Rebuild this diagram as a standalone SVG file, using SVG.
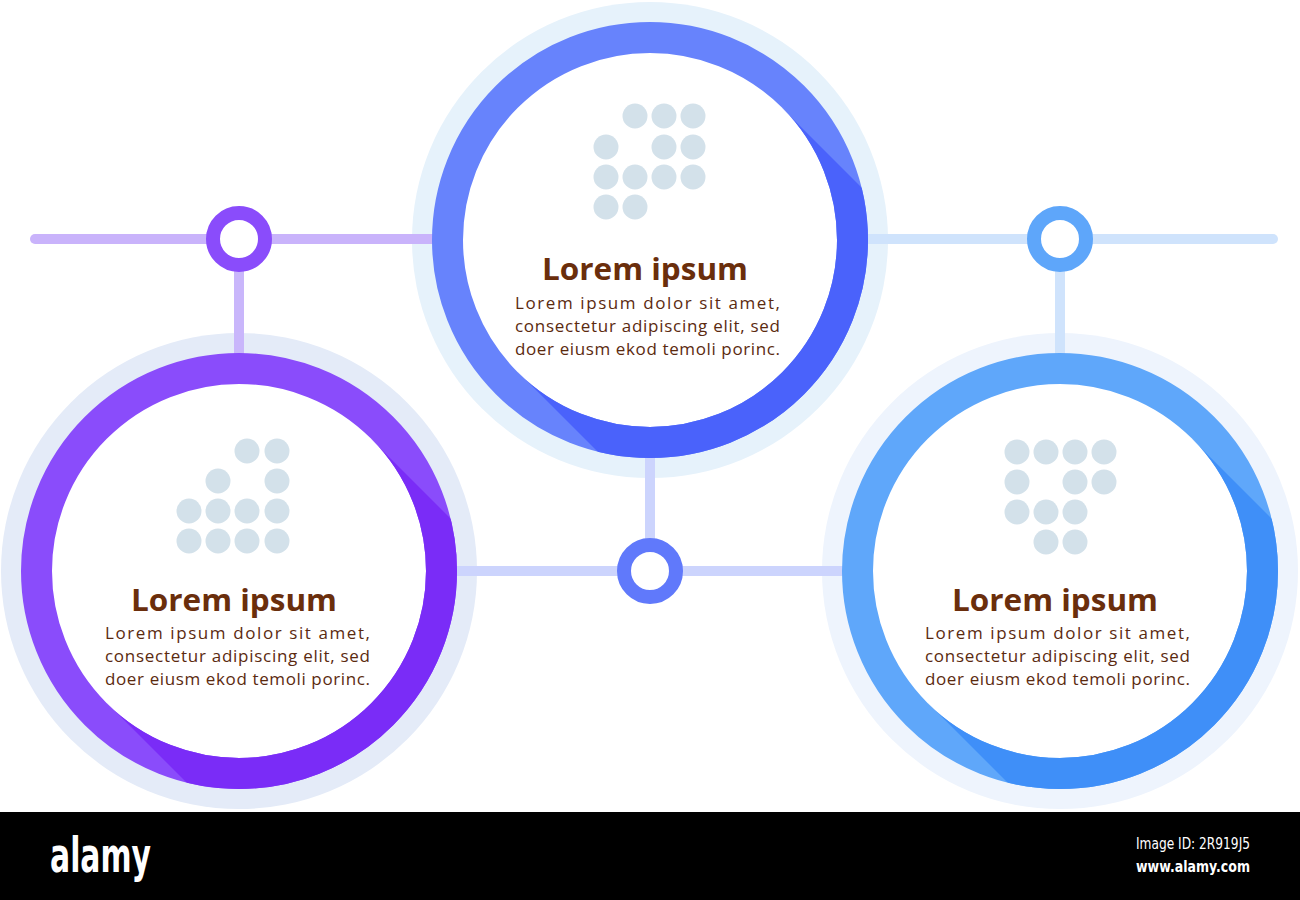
<svg xmlns="http://www.w3.org/2000/svg" width="1300" height="900" viewBox="0 0 1300 900">
<style>
.title{font-family:"Open Sans","Noto Sans",sans-serif;font-weight:bold;font-size:30px;fill:#6a2e0c;text-anchor:middle}
.body{font-family:"Open Sans","Noto Sans",sans-serif;font-size:17px;fill:#5b2a0f}
.dot{fill:#d3e1ea}
.ln{stroke-width:10;stroke-linecap:round;fill:none}
.jn{fill:#fff;stroke-width:14}
</style>
<defs>
<clipPath id="shC"><polygon points="782,108 1200,526 936,790 518,372"/></clipPath>
<clipPath id="shL"><polygon points="371,439 789,857 525,1121 107,703"/></clipPath>
<clipPath id="shR"><polygon points="1192,439 1610,857 1346,1121 928,703"/></clipPath>
</defs>
<rect width="1300" height="900" fill="#fff"/>
<g id="halos">
<circle cx="650" cy="240" r="238" fill="#e6f2fb"/>
<circle cx="239" cy="571" r="238" fill="#e4ebf8"/>
<circle cx="1060" cy="571" r="238" fill="#eef4fd"/>
</g>
<g id="connectors">
<line class="ln" x1="35" y1="239" x2="440" y2="239" stroke="#c9b3fb"/>
<line class="ln" x1="239" y1="260" x2="239" y2="365" stroke="#c9b6fb"/>
<line class="ln" x1="860" y1="239" x2="1273" y2="239" stroke="#cfe3fc"/>
<line class="ln" x1="1060" y1="260" x2="1060" y2="365" stroke="#cfe3fc"/>
<line class="ln" x1="650" y1="450" x2="650" y2="550" stroke="#ccd4fd"/>
<line x1="450" y1="571" x2="850" y2="571" stroke="#ccd4fd" stroke-width="10"/>
<circle class="jn" cx="239" cy="239" r="26" stroke="#8a4cfb"/>
<circle class="jn" cx="1060" cy="239" r="26" stroke="#5ea6fa"/>
<circle class="jn" cx="650" cy="571" r="26" stroke="#6079fb"/>
</g>
<g id="node-center">
<circle cx="650" cy="240" r="202.5" fill="#fff" stroke="#6783fc" stroke-width="31"/>
<circle cx="650" cy="240" r="202.5" fill="none" stroke="#4a62fb" stroke-width="31" clip-path="url(#shC)"/>
<g class="dot">
<circle cx="635" cy="116" r="12.5"/><circle cx="664" cy="116" r="12.5"/><circle cx="693" cy="116" r="12.5"/>
<circle cx="606" cy="147" r="12.5"/><circle cx="664" cy="147" r="12.5"/><circle cx="693" cy="147" r="12.5"/>
<circle cx="606" cy="177" r="12.5"/><circle cx="635" cy="177" r="12.5"/><circle cx="664" cy="177" r="12.5"/><circle cx="693" cy="177" r="12.5"/>
<circle cx="606" cy="207" r="12.5"/><circle cx="635" cy="207" r="12.5"/>
</g>
<text class="title" x="645" y="280" textLength="206" lengthAdjust="spacingAndGlyphs">Lorem ipsum</text>
<text class="body" x="515" y="309" textLength="265" lengthAdjust="spacing">Lorem ipsum dolor sit amet,</text>
<text class="body" x="515" y="332" textLength="265" lengthAdjust="spacing">consectetur adipiscing elit, sed</text>
<text class="body" x="515" y="355" textLength="265" lengthAdjust="spacing">doer eiusm ekod temoli porinc.</text>
</g>
<g id="node-left">
<circle cx="239" cy="571" r="202.5" fill="#fff" stroke="#8a4cfb" stroke-width="31"/>
<circle cx="239" cy="571" r="202.5" fill="none" stroke="#7a2cf7" stroke-width="31" clip-path="url(#shL)"/>
<g class="dot">
<circle cx="247" cy="451" r="12.5"/><circle cx="277" cy="451" r="12.5"/>
<circle cx="218" cy="481" r="12.5"/><circle cx="277" cy="481" r="12.5"/>
<circle cx="189" cy="511" r="12.5"/><circle cx="218" cy="511" r="12.5"/><circle cx="247" cy="511" r="12.5"/><circle cx="277" cy="511" r="12.5"/>
<circle cx="189" cy="541" r="12.5"/><circle cx="218" cy="541" r="12.5"/><circle cx="247" cy="541" r="12.5"/><circle cx="277" cy="541" r="12.5"/>
</g>
<text class="title" x="234" y="611" textLength="206" lengthAdjust="spacingAndGlyphs">Lorem ipsum</text>
<text class="body" x="105" y="639" textLength="265" lengthAdjust="spacing">Lorem ipsum dolor sit amet,</text>
<text class="body" x="105" y="662" textLength="265" lengthAdjust="spacing">consectetur adipiscing elit, sed</text>
<text class="body" x="105" y="685" textLength="265" lengthAdjust="spacing">doer eiusm ekod temoli porinc.</text>
</g>
<g id="node-right">
<circle cx="1060" cy="571" r="202.5" fill="#fff" stroke="#5fa7fa" stroke-width="31"/>
<circle cx="1060" cy="571" r="202.5" fill="none" stroke="#3f8ff8" stroke-width="31" clip-path="url(#shR)"/>
<g class="dot">
<circle cx="1017" cy="452" r="12.5"/><circle cx="1046" cy="452" r="12.5"/><circle cx="1075" cy="452" r="12.5"/><circle cx="1104" cy="452" r="12.5"/>
<circle cx="1017" cy="482" r="12.5"/><circle cx="1075" cy="482" r="12.5"/><circle cx="1104" cy="482" r="12.5"/>
<circle cx="1017" cy="512" r="12.5"/><circle cx="1046" cy="512" r="12.5"/><circle cx="1075" cy="512" r="12.5"/>
<circle cx="1046" cy="542" r="12.5"/><circle cx="1075" cy="542" r="12.5"/>
</g>
<text class="title" x="1055" y="611" textLength="206" lengthAdjust="spacingAndGlyphs">Lorem ipsum</text>
<text class="body" x="925" y="639" textLength="265" lengthAdjust="spacing">Lorem ipsum dolor sit amet,</text>
<text class="body" x="925" y="662" textLength="265" lengthAdjust="spacing">consectetur adipiscing elit, sed</text>
<text class="body" x="925" y="685" textLength="265" lengthAdjust="spacing">doer eiusm ekod temoli porinc.</text>
</g>
<g id="footer">
<rect x="0" y="812" width="1300" height="88" fill="#000"/>
<text x="50" y="872" font-family="'DejaVu Sans',sans-serif" font-stretch="condensed" font-weight="bold" font-size="48" fill="#fff" textLength="101" lengthAdjust="spacingAndGlyphs">alamy</text>
<text x="1250" y="849" font-family="'DejaVu Sans',sans-serif" font-size="15" fill="#fff" text-anchor="end" textLength="114" lengthAdjust="spacingAndGlyphs">Image ID: 2R919J5</text>
<text x="1250" y="872" font-family="'DejaVu Sans',sans-serif" font-weight="bold" font-size="16" fill="#fff" text-anchor="end" textLength="114" lengthAdjust="spacingAndGlyphs">www.alamy.com</text>
</g>
</svg>
